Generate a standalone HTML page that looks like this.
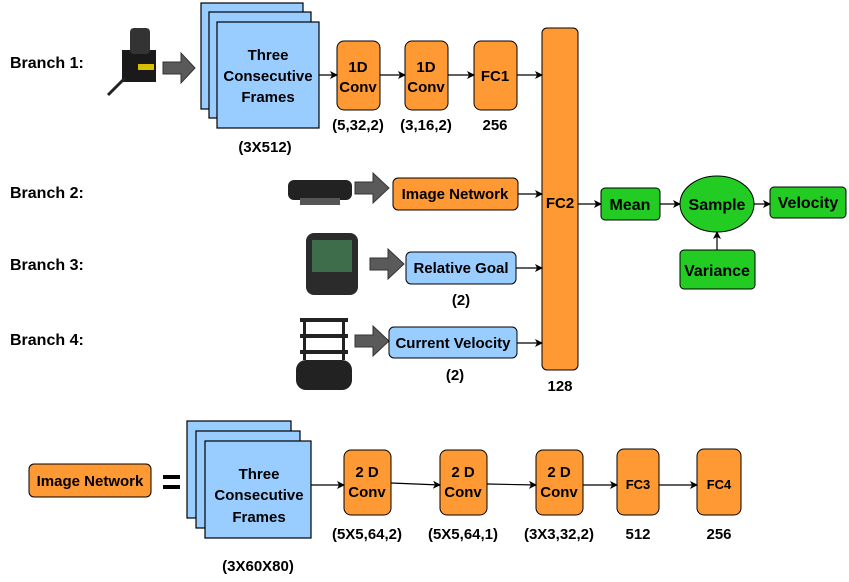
<!DOCTYPE html>
<html><head><style>
body{margin:0;background:#fff;}
svg{display:block;font-family:"Liberation Sans",Arial,sans-serif;font-weight:bold;}
</style></head><body>
<svg width="849" height="582" viewBox="0 0 849 582" xmlns="http://www.w3.org/2000/svg">
<defs>
<marker id="a" markerWidth="8" markerHeight="8" refX="7" refY="4" orient="auto" markerUnits="userSpaceOnUse"><path d="M0,0 L8,4 L0,8 L2,4z" fill="#000"/></marker>
</defs>
<g font-size="16" fill="#000">
<text x="10" y="68">Branch 1:</text>
<text x="10" y="198">Branch 2:</text>
<text x="10" y="270">Branch 3:</text>
<text x="10" y="345">Branch 4:</text>
</g>
<!-- sensor images -->
<rect x="122" y="50" width="34" height="32" fill="#1a1a1a"/>
<rect x="130" y="28" width="20" height="26" rx="4" fill="#333"/>
<rect x="138" y="64" width="16" height="6" fill="#d8c000"/>
<line x1="125" y1="78" x2="108" y2="95" stroke="#222" stroke-width="3"/>
<rect x="288" y="180" width="64" height="20" rx="6" fill="#222"/>
<rect x="300" y="198" width="40" height="7" fill="#555"/>
<rect x="306" y="233" width="52" height="62" rx="8" fill="#2b2b2b"/>
<rect x="312" y="240" width="40" height="32" fill="#3d6d4a"/>
<g fill="#222"><rect x="300" y="318" width="48" height="4"/><rect x="300" y="334" width="48" height="4"/><rect x="300" y="350" width="48" height="4"/><rect x="303" y="320" width="3" height="40"/><rect x="342" y="320" width="3" height="40"/><rect x="296" y="360" width="56" height="30" rx="10"/></g>
<!-- big arrows -->
<g fill="#5a5a5a" stroke="#333">
<path d="M163,62 h18 v-9 l14,15 -14,15 v-9 h-18z"/>
<path d="M355,182 h18 v-9 l16,15 -16,15 v-9 h-18z"/>
<path d="M370,258 h18 v-9 l16,15 -16,15 v-9 h-18z"/>
<path d="M355,335 h18 v-9 l16,15 -16,15 v-9 h-18z"/>
</g>
<!-- top frames -->
<g fill="#99ccff" stroke="#000" stroke-width="1.2">
<rect x="201" y="3" width="102" height="106"/>
<rect x="209" y="12" width="102" height="106"/>
<rect x="217" y="22" width="102" height="106"/>
</g>
<g font-size="15" text-anchor="middle">
<text x="268" y="60">Three</text><text x="268" y="81">Consecutive</text><text x="268" y="102">Frames</text>
<text x="265" y="152">(3X512)</text>
</g>
<g fill="#ff9933" stroke="#000" stroke-width="1">
<rect x="337" y="41" width="43" height="69" rx="7"/>
<rect x="405" y="41" width="43" height="69" rx="7"/>
<rect x="474" y="41" width="43" height="69" rx="7"/>
<rect x="542" y="28" width="36" height="342" rx="5"/>
<rect x="393" y="178" width="125" height="32" rx="5"/>
</g>
<g font-size="15" text-anchor="middle">
<text x="358" y="72">1D</text><text x="358" y="92">Conv</text>
<text x="426" y="72">1D</text><text x="426" y="92">Conv</text>
<text x="495" y="81">FC1</text>
<text x="560" y="208">FC2</text>
<text x="455" y="199">Image Network</text>
<text x="358" y="130">(5,32,2)</text><text x="426" y="130">(3,16,2)</text><text x="495" y="130">256</text>
<text x="560" y="391">128</text>
</g>
<g stroke="#000" stroke-width="1.2" marker-end="url(#a)">
<line x1="319" y1="75" x2="337" y2="75"/>
<line x1="380" y1="75" x2="405" y2="75"/>
<line x1="448" y1="75" x2="474" y2="75"/>
<line x1="517" y1="75" x2="542" y2="75"/>
<line x1="518" y1="194" x2="542" y2="194"/>
<line x1="516" y1="268" x2="542" y2="268"/>
<line x1="517" y1="343" x2="542" y2="343"/>
<line x1="578" y1="204" x2="601" y2="204"/>
<line x1="660" y1="204" x2="680" y2="204"/>
<line x1="753" y1="204" x2="770" y2="204"/>
<line x1="717" y1="250" x2="717" y2="232"/>
</g>
<g fill="#99ccff" stroke="#000" stroke-width="1">
<rect x="406" y="252" width="110" height="32" rx="5"/>
<rect x="389" y="327" width="128" height="31" rx="5"/>
</g>
<g font-size="15" text-anchor="middle">
<text x="461" y="273">Relative Goal</text>
<text x="461" y="305">(2)</text>
<text x="453" y="348">Current Velocity</text>
<text x="455" y="380">(2)</text>
</g>
<g fill="#22cc22" stroke="#000" stroke-width="1">
<rect x="601" y="188" width="59" height="32" rx="4"/>
<ellipse cx="717" cy="204" rx="37" ry="28"/>
<rect x="770" y="187" width="76" height="31" rx="4"/>
<rect x="680" y="250" width="75" height="39" rx="4"/>
</g>
<g font-size="16" text-anchor="middle">
<text x="630" y="210">Mean</text>
<text x="717" y="210">Sample</text>
<text x="808" y="208">Velocity</text>
<text x="717" y="276">Variance</text>
</g>
<!-- bottom -->
<rect x="29" y="464" width="122" height="33" rx="5" fill="#ff9933" stroke="#000"/>
<text x="90" y="486" font-size="15" text-anchor="middle">Image Network</text>
<rect x="163" y="475" width="17" height="4" fill="#000"/><rect x="163" y="485" width="17" height="4" fill="#000"/>
<g fill="#99ccff" stroke="#000" stroke-width="1.2">
<rect x="187" y="421" width="104" height="97"/>
<rect x="196" y="431" width="104" height="97"/>
<rect x="205" y="441" width="106" height="97"/>
</g>
<g font-size="15" text-anchor="middle">
<text x="259" y="479">Three</text><text x="259" y="500">Consecutive</text><text x="259" y="522">Frames</text>
<text x="258" y="571">(3X60X80)</text>
</g>
<g fill="#ff9933" stroke="#000" stroke-width="1">
<rect x="344" y="450" width="47" height="65" rx="7"/>
<rect x="440" y="450" width="47" height="65" rx="7"/>
<rect x="536" y="450" width="47" height="65" rx="7"/>
<rect x="617" y="449" width="42" height="66" rx="7"/>
<rect x="697" y="449" width="44" height="66" rx="7"/>
</g>
<g stroke="#000" stroke-width="1.2" marker-end="url(#a)">
<line x1="311" y1="485" x2="344" y2="485"/>
<line x1="391" y1="483" x2="440" y2="485"/>
<line x1="487" y1="484" x2="536" y2="485"/>
<line x1="583" y1="485" x2="617" y2="485"/>
<line x1="659" y1="485" x2="697" y2="485"/>
</g>
<g font-size="15" text-anchor="middle">
<text x="367" y="477">2 D</text><text x="367" y="497">Conv</text>
<text x="463" y="477">2 D</text><text x="463" y="497">Conv</text>
<text x="559" y="477">2 D</text><text x="559" y="497">Conv</text>
<text x="638" y="489" font-size="13">FC3</text>
<text x="719" y="489" font-size="13">FC4</text>
<text x="367" y="539">(5X5,64,2)</text><text x="463" y="539">(5X5,64,1)</text><text x="559" y="539">(3X3,32,2)</text>
<text x="638" y="539">512</text><text x="719" y="539">256</text>
</g>
</svg>
</body></html>
